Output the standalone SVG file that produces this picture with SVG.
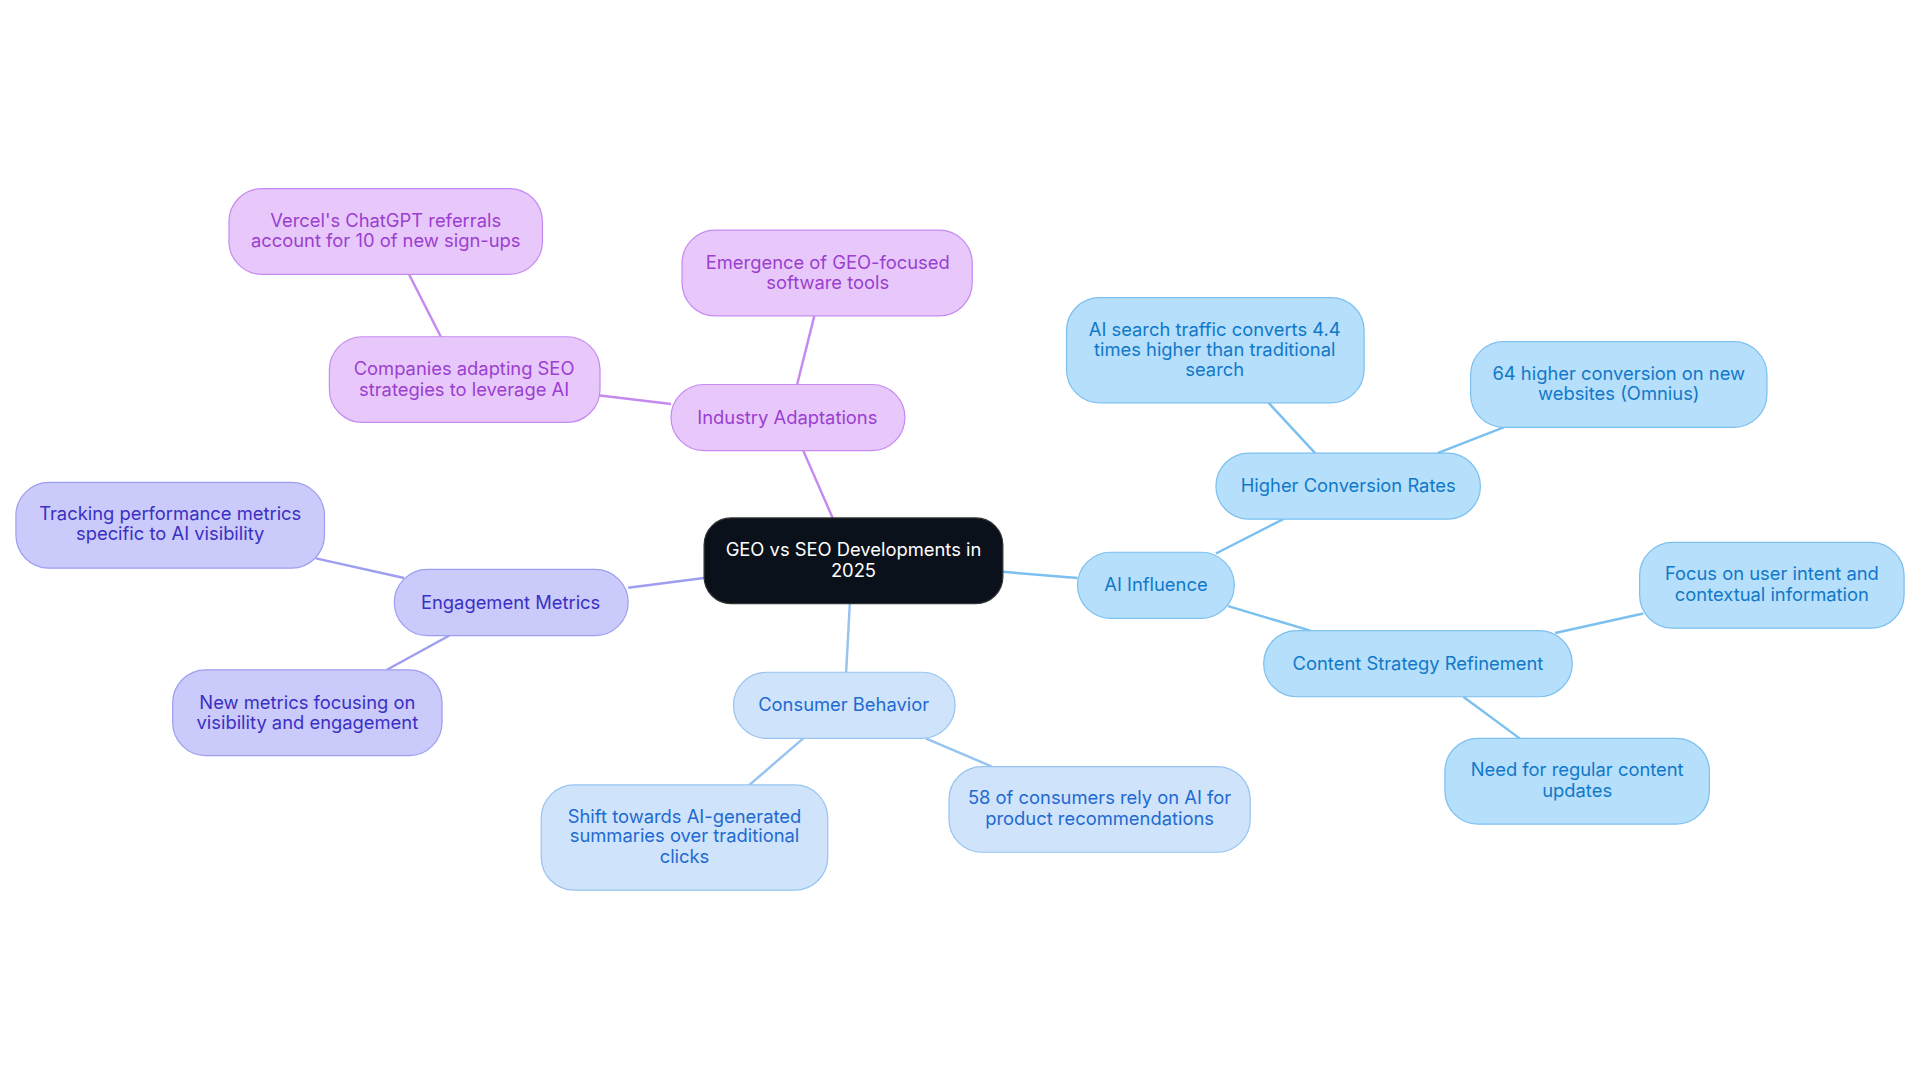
<svg xmlns="http://www.w3.org/2000/svg" width="1920" height="1083" viewBox="0 0 1920 1083">
<style>
text{font-family:Inter,"Noto Sans",sans-serif;font-size:15px;text-anchor:middle}
.p rect{fill:#e8c8fb;stroke:#c58af0}.p text{fill:#9a3fd0}
.v rect{fill:#cacafb;stroke:#9e9ef0}.v text{fill:#3b30c2}
.c rect{fill:#cfe3fb;stroke:#97c3f0}.c text{fill:#1f6ad0}
.b rect{fill:#b5dffb;stroke:#7cc0f0}.b text{fill:#1278c8}
#edges line{stroke-width:2;fill:none}
</style>
<rect width="1920" height="1083" fill="#fff"/>
<g transform="scale(1.2245)">
<g id="edges">
<line x1="680" y1="423" x2="656" y2="368" stroke="#c58af0"/>
<line x1="651" y1="314" x2="665" y2="258" stroke="#c58af0"/>
<line x1="548" y1="330" x2="490" y2="323" stroke="#c58af0"/>
<line x1="360" y1="275" x2="334" y2="224" stroke="#c58af0"/>
<line x1="575" y1="472" x2="513" y2="480" stroke="#9e9ef0"/>
<line x1="330" y1="472" x2="258" y2="456" stroke="#9e9ef0"/>
<line x1="367" y1="519" x2="316" y2="547" stroke="#9e9ef0"/>
<line x1="694" y1="493" x2="691" y2="549" stroke="#97c3f0"/>
<line x1="656" y1="603" x2="612" y2="641" stroke="#97c3f0"/>
<line x1="756" y1="603" x2="810" y2="626" stroke="#97c3f0"/>
<line x1="819" y1="467" x2="880" y2="472" stroke="#7cc0f0"/>
<line x1="993" y1="452" x2="1048" y2="424" stroke="#7cc0f0"/>
<line x1="1074" y1="370" x2="1036" y2="329" stroke="#7cc0f0"/>
<line x1="1174" y1="370" x2="1228" y2="349" stroke="#7cc0f0"/>
<line x1="1003" y1="495" x2="1070" y2="515" stroke="#7cc0f0"/>
<line x1="1270" y1="517" x2="1342" y2="501" stroke="#7cc0f0"/>
<line x1="1195" y1="569" x2="1241" y2="603" stroke="#7cc0f0"/>
</g>
<g id="center"><rect x="575" y="423" width="244" height="70" rx="22" fill="#0b111a" stroke="#333"/><text fill="#fff" x="697" y="454">GEO vs SEO Developments in</text><text fill="#fff" x="697" y="471">2025</text></g>
<g id="ia" class="p"><rect x="548" y="314" width="191" height="54" rx="27"/><text x="643" y="346">Industry Adaptations</text></g>
<g id="emergence" class="p"><rect x="557" y="188" width="237" height="70" rx="27"/><text x="676" y="220">Emergence of GEO-focused</text><text x="676" y="236">software tools</text></g>
<g id="companies" class="p"><rect x="269" y="275" width="221" height="70" rx="27"/><text x="379" y="306">Companies adapting SEO</text><text x="379" y="323">strategies to leverage AI</text></g>
<g id="vercel" class="p"><rect x="187" y="154" width="256" height="70" rx="27"/><text x="315" y="185">Vercel's ChatGPT referrals</text><text x="315" y="202">account for 10 of new sign-ups</text></g>
<g id="engagement" class="v"><rect x="322" y="465" width="191" height="54" rx="27"/><text x="417" y="497">Engagement Metrics</text></g>
<g id="tracking" class="v"><rect x="13" y="394" width="252" height="70" rx="27"/><text x="139" y="425">Tracking performance metrics</text><text x="139" y="441">specific to AI visibility</text></g>
<g id="newmetrics" class="v"><rect x="141" y="547" width="220" height="70" rx="27"/><text x="251" y="579">New metrics focusing on</text><text x="251" y="595">visibility and engagement</text></g>
<g id="consumer" class="c"><rect x="599" y="549" width="181" height="54" rx="27"/><text x="689" y="581">Consumer Behavior</text></g>
<g id="shift" class="c"><rect x="442" y="641" width="234" height="86" rx="27"/><text x="559" y="672">Shift towards AI-generated</text><text x="559" y="688">summaries over traditional</text><text x="559" y="705">clicks</text></g>
<g id="c58" class="c"><rect x="775" y="626" width="246" height="70" rx="27"/><text x="898" y="657">58 of consumers rely on AI for</text><text x="898" y="674">product recommendations</text></g>
<g id="ai" class="b"><rect x="880" y="451" width="128" height="54" rx="27"/><text x="944" y="483">AI Influence</text></g>
<g id="higher" class="b"><rect x="993" y="370" width="216" height="54" rx="27"/><text x="1101" y="402">Higher Conversion Rates</text></g>
<g id="aisearch" class="b"><rect x="871" y="243" width="243" height="86" rx="27"/><text x="992" y="274">AI search traffic converts 4.4</text><text x="992" y="291">times higher than traditional</text><text x="992" y="307">search</text></g>
<g id="c64" class="b"><rect x="1201" y="279" width="242" height="70" rx="27"/><text x="1322" y="310">64 higher conversion on new</text><text x="1322" y="327">websites (Omnius)</text></g>
<g id="content" class="b"><rect x="1032" y="515" width="252" height="54" rx="27"/><text x="1158" y="547">Content Strategy Refinement</text></g>
<g id="focus" class="b"><rect x="1339" y="443" width="216" height="70" rx="27"/><text x="1447" y="474">Focus on user intent and</text><text x="1447" y="491">contextual information</text></g>
<g id="need" class="b"><rect x="1180" y="603" width="216" height="70" rx="27"/><text x="1288" y="634">Need for regular content</text><text x="1288" y="651">updates</text></g>
</g>
</svg>
